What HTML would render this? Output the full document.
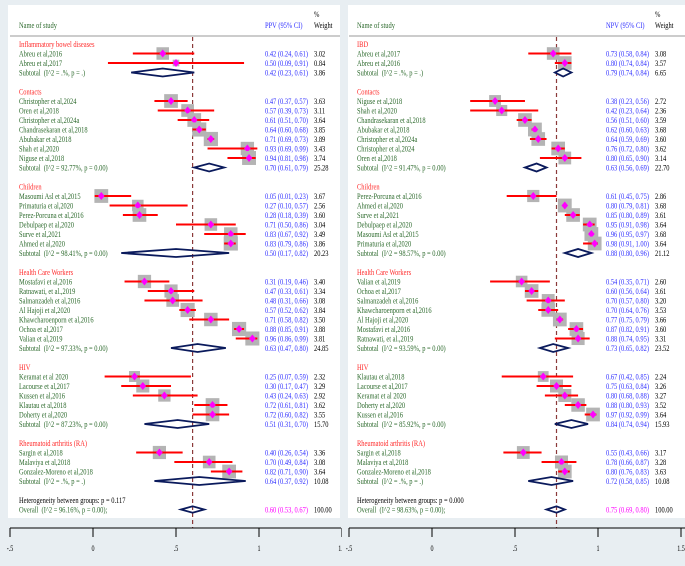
<!DOCTYPE html>
<html><head><meta charset="utf-8">
<style>
html,body{margin:0;padding:0;background:#e8eef2;}
svg{display:block;font-family:"Liberation Serif",serif;}
</style></head>
<body>
<svg id="chart" width="685" height="566" viewBox="0 0 685 566" xmlns="http://www.w3.org/2000/svg">
<defs><clipPath id="clipL"><rect x="0" y="0" width="342" height="566"/></clipPath></defs>
<rect x="0" y="0" width="685" height="566" fill="#e8eef2"/>
<rect x="8" y="5" width="332" height="513" fill="#ffffff"/>
<rect x="348" y="5" width="337" height="513" fill="#ffffff"/>
<g id="left" clip-path="url(#clipL)"></g>
<g id="right"></g>
</svg>
<script>
// ---- PPV panel data ----
const leftKind = ['h','r','r','s','b','h','r','r','r','r','r','r','r','s','b','h','r','r','r','r','r','r','s','b','h','r','r','r','r','r','r','r','s','b','h','r','r','r','r','r','s','b','h','r','r','r','s','b','t','o'];
const leftLabels = ['Inflammatory bowel diseases','Abreu et al,2016','Abreu et al,2017','Subtotal  (I^2 = .%, p = .)','',
'Contacts','Christopher et al,2024','Oren et al,2018','Christopher et al,2024a','Chandrasekaran et al,2018','Abubakar et al,2018','Shah et al,2020','Niguse et al,2018','Subtotal  (I^2 = 92.77%, p = 0.00)','',
'Children','Masoumi Asl et al,2015','Primaturia et al,2020','Perez-Porcuna et al,2016','Debulpaep et al,2020','Surve et al,2021','Ahmed et al,2020','Subtotal  (I^2 = 98.41%, p = 0.00)','',
'Health Care Workers','Mostafavi et al,2016','Ratnawati, et al.,2019','Salmanzadeh et al,2016','Al Hajoji et al,2020','Khawcharoenporn et al,2016','Ochoa et al,2017','Valian et al,2019','Subtotal  (I^2 = 97.33%, p = 0.00)','',
'HIV','Keramat et al 2020','Lacourse et al,2017','Kussen et al,2016','Klautau et al,2018','Doherty et al,2020','Subtotal  (I^2 = 87.23%, p = 0.00)','',
'Rheumatoid arthritis (RA)','Sargin et al,2018','Malaviya et al,2018','Gonzalez-Moreno et al,2018','Subtotal  (I^2 = .%, p = .)','',
'Heterogeneity between groups: p = 0.117','Overall  (I^2 = 96.16%, p = 0.00);'];
const leftEst = [null,.42,.50,.42,null, null,.47,.57,.61,.64,.71,.93,.94,.70,null, null,.05,.27,.28,.71,.83,.83,.50,null, null,.31,.47,.48,.57,.71,.88,.96,.63,null, null,.25,.30,.43,.72,.72,.51,null, null,.40,.70,.82,.64,null, null,.60];
const leftLo  = [null,.24,.09,.23,null, null,.37,.39,.51,.60,.69,.69,.81,.61,null, null,.01,.10,.18,.50,.67,.79,.17,null, null,.19,.33,.31,.52,.58,.85,.86,.47,null, null,.07,.17,.24,.61,.60,.31,null, null,.26,.49,.71,.37,null, null,.53];
const leftHi  = [null,.61,.91,.61,null, null,.57,.73,.70,.68,.73,.99,.98,.79,null, null,.23,.57,.39,.86,.92,.86,.82,null, null,.46,.61,.66,.62,.82,.91,.99,.80,null, null,.59,.47,.63,.81,.82,.70,null, null,.54,.84,.90,.92,null, null,.67];
const leftWt  = [null,3.02,0.84,3.86,null, null,3.63,3.11,3.64,3.85,3.89,3.43,3.74,25.28,null, null,3.67,2.56,3.60,3.04,3.49,3.86,20.23,null, null,3.40,3.34,3.08,3.84,3.50,3.88,3.81,24.85,null, null,2.32,3.29,2.92,3.62,3.55,15.70,null, null,3.36,3.08,3.64,10.08,null, null,100.00];
const leftTicks = [-0.5,0,0.5,1,1.5];
const leftTickLabels = ['-.5','0','.5','1','1.5'];

// ---- NPV panel data ----
const rightKind = leftKind.slice();
const rightLabels = ['IBD','Abreu et al,2017','Abreu et al,2016','Subtotal  (I^2 = .%, p = .)','',
'Contacts','Niguse et al,2018','Shah et al,2020','Chandrasekaran et al,2018','Abubakar et al,2018','Christopher et al,2024a','Christopher et al,2024','Oren et al,2018','Subtotal  (I^2 = 91.47%, p = 0.00)','',
'Children','Perez-Porcuna et al,2016','Ahmed et al,2020','Surve et al,2021','Debulpaep et al,2020','Masoumi Asl et al,2015','Primaturia et al,2020','Subtotal  (I^2 = 98.57%, p = 0.00)','',
'Health Care Workers','Valian et al,2019','Ochoa et al,2017','Salmanzadeh et al,2016','Khawcharoenporn et al,2016','Al Hajoji et al,2020','Mostafavi et al,2016','Ratnawati, et al.,2019','Subtotal  (I^2 = 93.59%, p = 0.00)','',
'HIV','Klautau et al,2018','Lacourse et al,2017','Keramat et al 2020','Doherty et al,2020','Kussen et al,2016','Subtotal  (I^2 = 85.92%, p = 0.00)','',
'Rheumatoid arthritis (RA)','Sargin et al,2018','Malaviya et al,2018','Gonzalez-Moreno et al,2018','Subtotal  (I^2 = .%, p = .)','',
'Heterogeneity between groups: p = 0.000','Overall  (I^2 = 98.63%, p = 0.00);'];
const rightEst = [null,.73,.80,.79,null, null,.38,.42,.56,.62,.64,.76,.80,.63,null, null,.61,.80,.85,.95,.96,.98,.88,null, null,.54,.60,.70,.70,.77,.87,.88,.73,null, null,.67,.75,.80,.88,.97,.84,null, null,.55,.78,.80,.72,null, null,.75];
const rightLo  = [null,.58,.74,.74,null, null,.23,.23,.51,.60,.59,.72,.65,.56,null, null,.45,.79,.80,.91,.95,.91,.80,null, null,.35,.56,.57,.64,.75,.82,.74,.65,null, null,.42,.63,.68,.80,.92,.74,null, null,.43,.66,.76,.58,null, null,.69];
const rightHi  = [null,.84,.84,.84,null, null,.56,.64,.60,.63,.69,.80,.90,.69,null, null,.75,.81,.89,.98,.97,1.00,.96,null, null,.71,.64,.80,.76,.79,.91,.95,.82,null, null,.85,.84,.88,.93,.99,.94,null, null,.66,.87,.83,.85,null, null,.80];
const rightWt  = [null,3.08,3.57,6.65,null, null,2.72,2.36,3.59,3.68,3.60,3.62,3.14,22.70,null, null,2.86,3.68,3.61,3.64,3.68,3.64,21.12,null, null,2.60,3.61,3.20,3.53,3.66,3.60,3.31,23.52,null, null,2.24,3.26,3.27,3.52,3.64,15.93,null, null,3.17,3.28,3.63,10.08,null, null,100.00];
const rightTicks = [-0.5,0,0.5,1,1.5];
const rightTickLabels = ['-.5','0','.5','1','1.5'];

const NS='http://www.w3.org/2000/svg';
const SX=0.76;
function mk(parent,tag,attrs,txt){const e=document.createElementNS(NS,tag);for(const k in attrs)e.setAttribute(k,attrs[k]);if(txt!==undefined)e.textContent=txt;parent.appendChild(e);return e;}
function tx(parent,x,y,size,fill,str,anchor){
  const e=mk(parent,'text',{x:0,y:0,'font-size':size,fill:fill,transform:`translate(${x},${y}) scale(${SX},1)`,'text-anchor':anchor||'start'},str);
  e.setAttributeNS('http://www.w3.org/XML/1998/namespace','xml:space','preserve');
  return e;
}

function drawPanel(g,cfg){
  const x=v=>cfg.x0+(v+0.5)*166;
  const y=i=>44+9.5*i;
  const fs=8.5;
  let t;
  t=tx(g,cfg.nameX,28,fs,'#2e6b2e','Name of study');
  
  
  t=tx(g,cfg.valX,28,fs,'#3333ff',cfg.title);
  
  
  t=tx(g,cfg.wX,17,fs,'#000','%');
  
  
  t=tx(g,cfg.wX,28,fs,'#000','Weight');
  
  
  let l=mk(g,'line',{x1:cfg.panelL,x2:cfg.panelR,y1:36,y2:36,stroke:'#999','stroke-width':1});
  
  
  const oi=cfg.kind.indexOf('o');
  l=mk(g,'line',{x1:x(cfg.est[oi]),x2:x(cfg.est[oi]),y1:37,y2:528,stroke:'#8b3a3a','stroke-width':1.2,'stroke-dasharray':'4,3'});
  
  
  for(let i=0;i<cfg.kind.length;i++){
    const k=cfg.kind[i], yy=y(i);
    if(k==='b')continue;
    let col = k==='h'?'#ff2a2a':(k==='t'?'#000':'#2e6b2e');
    t=tx(g,cfg.nameX,yy+3,fs,col,cfg.labels[i]);
    
    
    if(cfg.est[i]===null)continue;
    const e=cfg.est[i],lo=cfg.lo[i],hi=cfg.hi[i],w=cfg.wt[i];
    if(k==='r'){
      const s=Math.sqrt(w)*7.2;
      let b=mk(g,'rect',{x:x(e)-s/2,y:yy-s/2,width:s,height:s,fill:'#b4b4b4'});
      
      
      let c=mk(g,'line',{x1:x(lo),x2:x(hi),y1:yy,y2:yy,stroke:'#ff0000','stroke-width':2});
      
      
      let d=mk(g,'polygon',{points:`${x(e)-3.3},${yy} ${x(e)},${yy-4} ${x(e)+3.3},${yy} ${x(e)},${yy+4}`,fill:'#ff00ff'});
      
      
    } else {
      const h = k==='o'?3.2:4;
      let d=mk(g,'polygon',{points:`${x(lo)},${yy} ${x(e)},${yy-h} ${x(hi)},${yy} ${x(e)},${yy+h}`,fill:'none',stroke:'#0a1a5c','stroke-width':1.8});
      
      
    }
    const vtxt=`${e.toFixed(2)} (${lo.toFixed(2)}, ${hi.toFixed(2)})`;
    t=tx(g,cfg.valX,yy+3,fs,k==='o'?'#ff00ff':'#3333ff',vtxt);
    
    
    t=tx(g,cfg.wX,yy+3,fs,'#000',w.toFixed(2));
    
    
  }
  l=mk(g,'line',{x1:x(-0.5),x2:cfg.axisR,y1:528,y2:528,stroke:'#000','stroke-width':1});
  
  
  cfg.ticks.forEach((v,j)=>{
    let tk=mk(g,'line',{x1:x(v),x2:x(v),y1:528,y2:537,stroke:'#000','stroke-width':1});
    
    
    let tl=tx(g,x(v),551,8,'#000',cfg.tickLabels[j],'middle');
    
    
  });
}
drawPanel(document.getElementById('left'),{x0:10,nameX:19,valX:265,wX:314,panelL:10,panelR:340,axisR:341,title:'PPV (95% CI)',
  kind:leftKind,labels:leftLabels,est:leftEst,lo:leftLo,hi:leftHi,wt:leftWt,ticks:leftTicks,tickLabels:leftTickLabels});
drawPanel(document.getElementById('right'),{x0:349,nameX:357,valX:606,wX:655,panelL:349,panelR:685,axisR:685,title:'NPV (95% CI)',
  kind:rightKind,labels:rightLabels,est:rightEst,lo:rightLo,hi:rightHi,wt:rightWt,ticks:rightTicks,tickLabels:rightTickLabels});
</script>
</body></html>
